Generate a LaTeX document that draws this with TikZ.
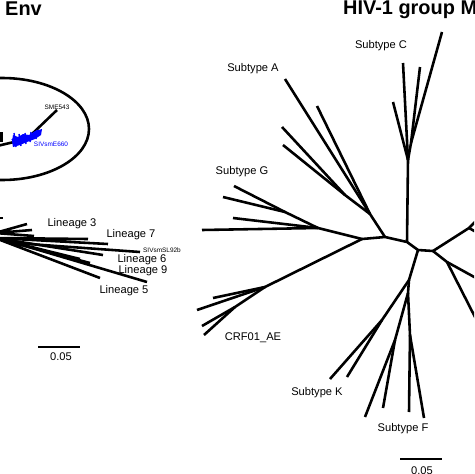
\documentclass[tikz,border=0pt]{standalone}
\usepackage{fontspec}
\setmainfont{Liberation Sans}
\begin{document}
\begin{tikzpicture}[x=0.03cm,y=-0.03cm,
        ramo/.style={line width=2.2pt,line join=round},
        etichetta/.style={font=\fontsize{9.5}{11}\selectfont,inner sep=0pt},
        piccola/.style={font=\fontsize{5.5}{6}\selectfont,inner sep=0pt},
        titolo/.style={font=\fontsize{17}{20}\selectfont\bfseries,inner sep=0pt}]
    \clip (0,0) rectangle (474,474);
    %titoli
    \node[titolo,anchor=base west] (env) at (5,15) {Env};
    \node[titolo,anchor=base west] (hiv) at (343,14) {HIV-1 group M};
    %disegno ellisse
    \draw[line width=2.2pt] (2,129) ellipse [x radius=2.61cm, y radius=1.53cm];
    \draw[line width=2.6pt] (1,132)--(1,142);
    \coordinate (e0) at (-3,146);
    \coordinate (e1) at (14,142);
    \coordinate (e2) at (32,134);
    \coordinate (sme) at (57,110);
    \draw[ramo] (e0)--(e1);
    \draw[ramo] (e2)--(sme);
    %gruppo blu
    \fill[blue] (12,141)--(13,135)--(18,137)--(23,134)--(29,135)--(35,131)
        --(42,129)--(41,135)--(35,139)--(27,142)--(20,145)--(13,147)--cycle;
    \draw[blue,line width=1.2pt] (14,133)--(16,147) (19,134)--(21,146)
        (25,133)--(26,144) (31,132)--(30,142) (37,130)--(36,139)
        (12,139)--(e1);
    \node[piccola,anchor=south] (lsme) at (sme) {SME543};
    \node[piccola,text=blue] (le660) at (51,144) {SIVsmE660};
    %disegno lineages
    \coordinate (l0) at (-5,233);
    \coordinate (l1) at (-5,238);
    \coordinate (l2) at (15,243);
    \draw[ramo] (-1,218)--(3,218);
    \draw[ramo] (27,224)--(l0)--(32,230);
    \draw[ramo] (34,236)--(l0);
    \draw[ramo] (88,239)--(l1)--(108,244);
    \draw[ramo] (103,255)--(l1)--(80,259);
    \draw[ramo] (90,263)--(l1)--(100,278);
    \draw[ramo] (l1)--(l2)--(140,252);
    \draw[ramo] (l2)--(147,282);
    \node[etichetta] (lin3) at (72,224) {Lineage 3};
    \node[etichetta] (lin7) at (131,235) {Lineage 7};
    \node[piccola] (sl92) at (162,250) {SIVsmSL92b};
    \node[etichetta] (lin6) at (142,260) {Lineage 6};
    \node[etichetta] (lin9) at (143,271) {Lineage 9};
    \node[etichetta] (lin5) at (124,291) {Lineage 5};
    %scala sinistra
    \draw[ramo] (38,347) coordinate (s0)--(80,347) coordinate (s1);
    \node[etichetta] (ls) at (61,357) {0.05};
    %albero gruppo M
    \coordinate (r1) at (362,239);
    \coordinate (r2) at (385,237);
    \coordinate (r3) at (407,242);
    \coordinate (r4) at (418,250);
    \coordinate (r5) at (433,251);
    \draw[ramo] (r1)--(r2)--(r3)--(r4)--(r5);
    %sottotipo C
    \coordinate (c0) at (408,160);
    \coordinate (c3) at (411,143);
    \draw[ramo] (r3)--(c0)--(393,102);
    \draw[ramo] (c0)--(403,63);
    \draw[ramo] (c0)--(c3)--(420,67);
    \draw[ramo] (c3)--(442,32);
    \node[etichetta] (sc) at (381,46) {Subtype C};
    %sottotipo A
    \coordinate (a1) at (370,214);
    \coordinate (a3) at (345,195);
    \draw[ramo] (r2)--(a1)--(285,79);
    \draw[ramo] (a1)--(317,106);
    \draw[ramo] (a1)--(a3)--(282,127);
    \draw[ramo] (a3)--(283,145);
    \node[etichetta] (sa) at (253,69) {Subtype A};
    %sottotipo G
    \coordinate (g0) at (318,228);
    \coordinate (g1) at (285,212);
    \draw[ramo] (r1)--(g0)--(202,230);
    \draw[ramo] (g0)--(233,218);
    \draw[ramo] (g0)--(g1)--(234,186);
    \draw[ramo] (g1)--(223,197);
    \node[etichetta] (sg) at (242,172) {Subtype G};
    %CRF01_AE
    \coordinate (f0) at (265,287);
    \coordinate (f1) at (235,307);
    \draw[ramo] (r1)--(f0)--(197,310);
    \draw[ramo] (f0)--(213,298);
    \draw[ramo] (f0)--(f1)--(202,326);
    \draw[ramo] (f1)--(204,335);
    \node[etichetta] (crf) at (253,338) {CRF01\_AE};
    %sottotipi K e F
    \coordinate (k0) at (409,280);
    \coordinate (k1) at (382,320);
    \coordinate (k2) at (408,293);
    \coordinate (k3) at (395,340);
    \coordinate (k4) at (410,335);
    \draw[ramo] (r4)--(k0)--(k1)--(330,379);
    \draw[ramo] (k1)--(347,377);
    \draw[ramo] (k0)--(k2)--(k3)--(365,417);
    \draw[ramo] (k3)--(383,408);
    \draw[ramo] (k2)--(k4)--(409,412);
    \draw[ramo] (k4)--(424,418);
    \node[etichetta] (sk) at (317,393) {Subtype K};
    \node[etichetta] (sf) at (403,429) {Subtype F};
    %rami a destra
    \coordinate (h0) at (469,228);
    \coordinate (h1) at (447,262);
    \draw[ramo] (r5)--(h0)--(476,221);
    \draw[ramo] (h0)--(476,232);
    \draw[ramo] (r5)--(h1)--(476,278);
    \draw[ramo] (h1)--(476,319);
    %scala destra
    \draw[ramo] (400,459) coordinate (t0)--(442,459) coordinate (t1);
    \node[etichetta] (lt) at (422,471) {0.05};
\end{tikzpicture}
\end{document}
